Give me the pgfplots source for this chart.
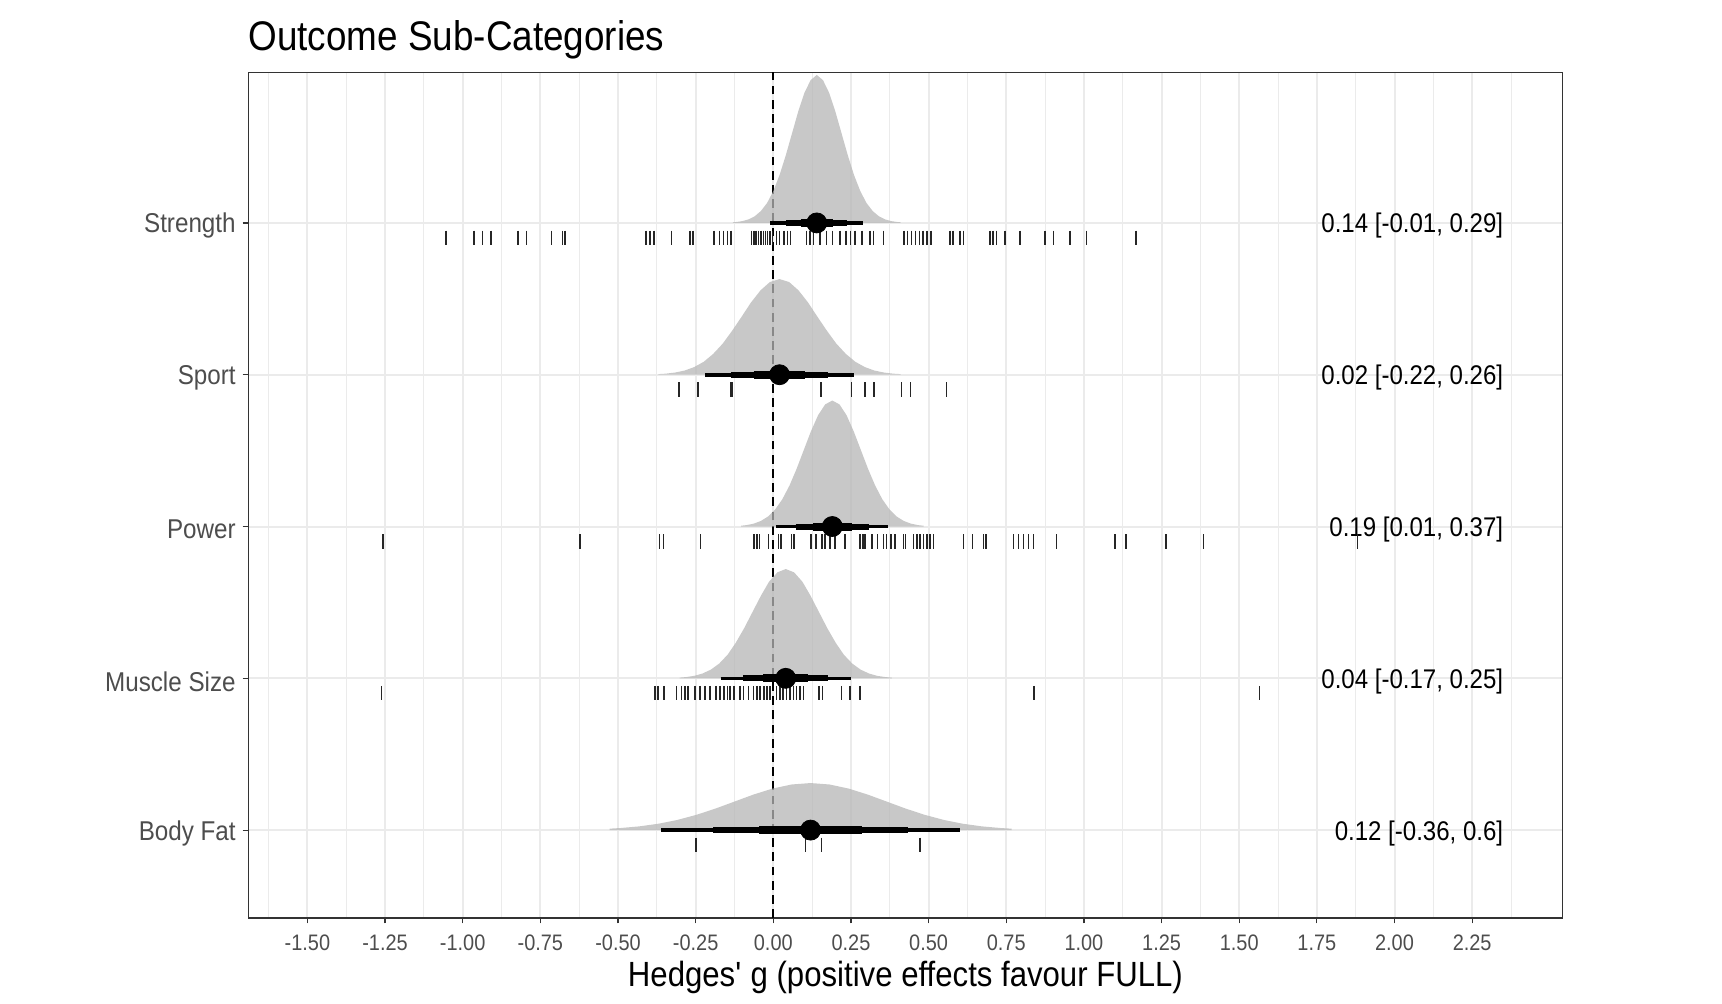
\documentclass[border=0pt]{standalone}
\usepackage{fontspec}
\setmainfont{Liberation Sans}[FakeStretch=0.89]
\usepackage{pgfplots}
\pgfplotsset{compat=1.18}
\definecolor{grey92}{RGB}{235,235,235}
\definecolor{grey30}{RGB}{77,77,77}
\definecolor{grey20}{RGB}{51,51,51}
\definecolor{slab}{RGB}{182,182,182}
\begin{document}
\begin{tikzpicture}
\begin{axis}[
  at={(0,0)}, anchor=south west,
  scale only axis, width=657.25pt, height=422.75pt,
  xmin=-1.6906, xmax=2.5415, ymin=0.421, ymax=5.991,
  xtick={-1.5,-1.25,-1,-0.75,-0.5,-0.25,0,0.25,0.5,0.75,1,1.25,1.5,1.75,2,2.25},
  xticklabels={-1.50,-1.25,-1.00,-0.75,-0.50,-0.25,0.00,0.25,0.50,0.75,1.00,1.25,1.50,1.75,2.00,2.25},
  minor xtick={-1.625,-1.375,-1.125,-0.875,-0.625,-0.375,-0.125,0.125,0.375,0.625,0.875,1.125,1.375,1.625,1.875,2.125,2.375},
  ytick={1,2,3,4,5},
  yticklabels={Body Fat,Muscle Size,Power,Sport,Strength},
  xmajorgrids, xminorgrids, ymajorgrids,
  major grid style={draw=grey92, line width=1pt},
  minor grid style={draw=grey92, line width=0.5pt},
  tick align=outside, xtick pos=bottom, ytick pos=left,
  major tick length=2.75pt, minor tick length=0pt,
  tick style={draw=grey20, line width=0.6pt},
  axis line style={draw=grey20, line width=0.6pt},
  xticklabel style={font=\fontsize{11.2}{12}\selectfont, text=grey30, yshift=-2.2pt},
  yticklabel style={font=\fontsize{13.6}{15}\selectfont, text=grey30, yshift=-1.5pt},
  xlabel={Hedges\textquotesingle\ g (positive effects favour FULL)},
  xlabel style={font=\fontsize{17.5}{20}\selectfont, at={(axis description cs:0.5,0)}, anchor=base, yshift=-34.1pt, inner sep=0pt},
  title={Outcome Sub-Categories},
  title style={font=\fontsize{20.7}{24}\selectfont, at={(axis description cs:0,1)}, anchor=base west, yshift=5pt, inner sep=0pt},
]
% zero reference line
\addplot[black, line width=1.1pt, dash pattern=on 4.4pt off 2.7pt] coordinates {(0,0.421) (0,5.991)};

% slabs
\addplot[fill=slab, fill opacity=0.75, draw=none] coordinates {
(-0.13,5) (-0.13,5.004) (-0.116,5.0068) (-0.10,5.0118) (-0.08,5.0231) (-0.06,5.0436) (-0.04,5.0782) (-0.02,5.1313) (0.00,5.2098) (0.02,5.3149) (0.04,5.4441) (0.06,5.5883) (0.08,5.7322) (0.10,5.8560) (0.12,5.9402) (0.14,5.975) (0.16,5.9402) (0.18,5.8560) (0.20,5.7322) (0.22,5.5883) (0.24,5.4441) (0.26,5.3149) (0.28,5.2098) (0.30,5.1313) (0.32,5.0782) (0.34,5.0436) (0.36,5.0231) (0.38,5.0118) (0.396,5.0068) (0.41,5.004) (0.41,5)};
\addplot[fill=slab, fill opacity=0.75, draw=none] coordinates {
(-0.370,4) (-0.370,4.0038) (-0.346,4.0070) (-0.316,4.0144) (-0.285,4.0277) (-0.255,4.0501) (-0.224,4.0853) (-0.194,4.1362) (-0.163,4.2045) (-0.133,4.2884) (-0.102,4.3821) (-0.072,4.4755) (-0.041,4.5560) (-0.011,4.6106) (0.02,4.63) (0.051,4.6106) (0.081,4.5560) (0.112,4.4755) (0.142,4.3821) (0.173,4.2884) (0.203,4.2045) (0.234,4.1362) (0.264,4.0853) (0.295,4.0501) (0.325,4.0277) (0.356,4.0144) (0.386,4.0070) (0.410,4.0038) (0.410,4)};
\addplot[fill=slab, fill opacity=0.75, draw=none] coordinates {
(-0.104,3) (-0.104,3.0050) (-0.086,3.0092) (-0.063,3.0189) (-0.040,3.0365) (-0.017,3.0660) (0.006,3.1123) (0.029,3.1795) (0.052,3.2695) (0.075,3.3800) (0.098,3.5034) (0.121,3.6265) (0.144,3.7325) (0.167,3.8045) (0.19,3.83) (0.213,3.8045) (0.236,3.7325) (0.259,3.6265) (0.282,3.5034) (0.305,3.3800) (0.328,3.2695) (0.351,3.1795) (0.374,3.1123) (0.397,3.0660) (0.420,3.0365) (0.443,3.0189) (0.466,3.0092) (0.484,3.0050) (0.484,3)};
\addplot[fill=slab, fill opacity=0.75, draw=none] coordinates {
(-0.302,2) (-0.302,2.0043) (-0.281,2.0080) (-0.254,2.0164) (-0.228,2.0316) (-0.201,2.0573) (-0.174,2.0974) (-0.147,2.1557) (-0.121,2.2337) (-0.094,2.3296) (-0.067,2.4367) (-0.040,2.5435) (-0.014,2.6354) (0.013,2.6978) (0.04,2.72) (0.067,2.6978) (0.094,2.6354) (0.120,2.5435) (0.147,2.4367) (0.174,2.3296) (0.201,2.2337) (0.227,2.1557) (0.254,2.0974) (0.281,2.0573) (0.308,2.0316) (0.334,2.0164) (0.361,2.0080) (0.382,2.0043) (0.382,2)};
\addplot[fill=slab, fill opacity=0.75, draw=none] coordinates {
(-0.527,1) (-0.527,1.0095) (-0.4925,1.0136) (-0.431,1.0247) (-0.37,1.0420) (-0.309,1.0670) (-0.2475,1.1006) (-0.186,1.1419) (-0.125,1.1880) (-0.064,1.2340) (-0.0025,1.2736) (0.0588,1.3005) (0.12,1.31) (0.181,1.3005) (0.2425,1.2736) (0.304,1.2340) (0.365,1.1880) (0.426,1.1419) (0.4875,1.1006) (0.549,1.0670) (0.61,1.0420) (0.671,1.0247) (0.7325,1.0136) (0.767,1.0095) (0.767,1)};

% rugs
\pgfplotsset{rug/.style={only marks, mark=|, mark size=3.6pt, mark options={line width=0.75pt, draw=black!85}}}
\addplot[rug] coordinates {
(-1.053,4.9025) (-0.963,4.9025) (-0.936,4.9025) (-0.909,4.9025) (-0.822,4.9025) (-0.794,4.9025) (-0.714,4.9025) (-0.679,4.9025) (-0.671,4.9025)
(-0.410,4.9025) (-0.397,4.9025) (-0.384,4.9025) (-0.327,4.9025) (-0.268,4.9025) (-0.258,4.9025) (-0.191,4.9025) (-0.174,4.9025) (-0.161,4.9025) (-0.148,4.9025) (-0.137,4.9025)
(-0.070,4.9025) (-0.062,4.9025) (-0.055,4.9025) (-0.048,4.9025) (-0.040,4.9025) (-0.032,4.9025) (-0.025,4.9025) (-0.018,4.9025) (-0.010,4.9025) (-0.003,4.9025)
(0.010,4.9025) (0.020,4.9025) (0.035,4.9025) (0.045,4.9025) (0.055,4.9025)
(0.107,4.9025) (0.118,4.9025) (0.129,4.9025) (0.150,4.9025) (0.172,4.9025) (0.191,4.9025) (0.215,4.9025) (0.234,4.9025) (0.249,4.9025) (0.263,4.9025) (0.285,4.9025) (0.311,4.9025) (0.322,4.9025) (0.354,4.9025)
(0.420,4.9025) (0.432,4.9025) (0.445,4.9025) (0.458,4.9025) (0.470,4.9025) (0.482,4.9025) (0.495,4.9025) (0.507,4.9025)
(0.569,4.9025) (0.578,4.9025) (0.601,4.9025) (0.612,4.9025)
(0.698,4.9025) (0.708,4.9025) (0.719,4.9025) (0.746,4.9025) (0.794,4.9025) (0.875,4.9025) (0.902,4.9025) (0.955,4.9025) (1.009,4.9025) (1.168,4.9025)};
\addplot[rug] coordinates {
(-0.303,3.9025) (-0.243,3.9025) (-0.136,3.9025) (-0.131,3.9025) (0.153,3.9025) (0.252,3.9025) (0.295,3.9025) (0.324,3.9025) (0.413,3.9025) (0.442,3.9025) (0.558,3.9025)};
\addplot[rug] coordinates {
(-1.256,2.9025) (-0.623,2.9025) (-0.366,2.9025) (-0.354,2.9025) (-0.235,2.9025) (-0.062,2.9025) (-0.053,2.9025) (-0.045,2.9025) (-0.016,2.9025) (0.016,2.9025) (0.024,2.9025) (0.059,2.9025) (0.067,2.9025) (0.121,2.9025) (0.137,2.9025) (0.156,2.9025) (0.166,2.9025) (0.183,2.9025) (0.199,2.9025) (0.231,2.9025) (0.279,2.9025) (0.288,2.9025) (0.295,2.9025) (0.317,2.9025) (0.335,2.9025) (0.354,2.9025) (0.365,2.9025) (0.379,2.9025) (0.392,2.9025) (0.419,2.9025) (0.426,2.9025) (0.451,2.9025) (0.462,2.9025) (0.472,2.9025) (0.483,2.9025) (0.494,2.9025) (0.504,2.9025) (0.515,2.9025) (0.612,2.9025) (0.642,2.9025) (0.676,2.9025) (0.685,2.9025) (0.773,2.9025) (0.789,2.9025) (0.805,2.9025) (0.821,2.9025) (0.837,2.9025) (0.912,2.9025) (1.10,2.9025) (1.135,2.9025) (1.265,2.9025) (1.385,2.9025) (1.88,2.9025)};
\addplot[rug] coordinates {
(-1.262,1.9025) (-0.381,1.9025) (-0.372,1.9025) (-0.352,1.9025) (-0.311,1.9025) (-0.295,1.9025) (-0.284,1.9025) (-0.274,1.9025) (-0.252,1.9025) (-0.236,1.9025) (-0.220,1.9025) (-0.204,1.9025) (-0.184,1.9025) (-0.172,1.9025) (-0.159,1.9025) (-0.148,1.9025) (-0.139,1.9025) (-0.127,1.9025) (-0.107,1.9025) (-0.096,1.9025) (-0.080,1.9025) (-0.064,1.9025) (-0.053,1.9025) (-0.043,1.9025) (-0.030,1.9025) (-0.021,1.9025) (-0.011,1.9025) (0.011,1.9025) (0.022,1.9025) (0.032,1.9025) (0.043,1.9025) (0.054,1.9025) (0.065,1.9025) (0.075,1.9025) (0.086,1.9025) (0.097,1.9025) (0.147,1.9025) (0.159,1.9025) (0.220,1.9025) (0.247,1.9025) (0.279,1.9025) (0.84,1.9025) (1.565,1.9025)};
\addplot[rug] coordinates {
(-0.249,0.9025) (0.104,0.9025) (0.155,0.9025) (0.472,0.9025)};

% point intervals: 95%
\addplot[black, line width=1.8pt] coordinates {(-0.01,5) (0.29,5)};
\addplot[black, line width=1.8pt] coordinates {(-0.22,4) (0.26,4)};
\addplot[black, line width=1.8pt] coordinates {(0.01,3) (0.37,3)};
\addplot[black, line width=1.8pt] coordinates {(-0.17,2) (0.25,2)};
\addplot[black, line width=1.8pt] coordinates {(-0.36,1) (0.60,1)};
% 80%
\addplot[black, line width=3pt] coordinates {(0.042,5) (0.238,5)};
\addplot[black, line width=3pt] coordinates {(-0.137,4) (0.177,4)};
\addplot[black, line width=3pt] coordinates {(0.072,3) (0.308,3)};
\addplot[black, line width=3pt] coordinates {(-0.097,2) (0.177,2)};
\addplot[black, line width=3pt] coordinates {(-0.194,1) (0.434,1)};
% 50%
\addplot[black, line width=4pt] coordinates {(0.088,5) (0.192,5)};
\addplot[black, line width=4pt] coordinates {(-0.063,4) (0.103,4)};
\addplot[black, line width=4pt] coordinates {(0.128,3) (0.252,3)};
\addplot[black, line width=4pt] coordinates {(-0.032,2) (0.112,2)};
\addplot[black, line width=4pt] coordinates {(-0.045,1) (0.285,1)};
% points
\addplot[only marks, mark=*, mark size=5pt, mark options={fill=black, draw=black}] coordinates {(0.14,5) (0.02,4) (0.19,3) (0.04,2) (0.12,1)};

% annotations
\node[anchor=east, inner sep=0pt, yshift=-1.5pt, font=\fontsize{13.5}{15}\selectfont] at (axis cs:2.351,5) {0.14 [-0.01, 0.29]};
\node[anchor=east, inner sep=0pt, yshift=-1.5pt, font=\fontsize{13.5}{15}\selectfont] at (axis cs:2.351,4) {0.02 [-0.22, 0.26]};
\node[anchor=east, inner sep=0pt, yshift=-1.5pt, font=\fontsize{13.5}{15}\selectfont] at (axis cs:2.351,3) {0.19 [0.01, 0.37]};
\node[anchor=east, inner sep=0pt, yshift=-1.5pt, font=\fontsize{13.5}{15}\selectfont] at (axis cs:2.351,2) {0.04 [-0.17, 0.25]};
\node[anchor=east, inner sep=0pt, yshift=-1.5pt, font=\fontsize{13.5}{15}\selectfont] at (axis cs:2.351,1) {0.12 [-0.36, 0.6]};
\end{axis}
\pgfresetboundingbox
\path[use as bounding box] (-124.1pt,-43pt) rectangle (736.9pt,459pt);
\end{tikzpicture}
\end{document}
